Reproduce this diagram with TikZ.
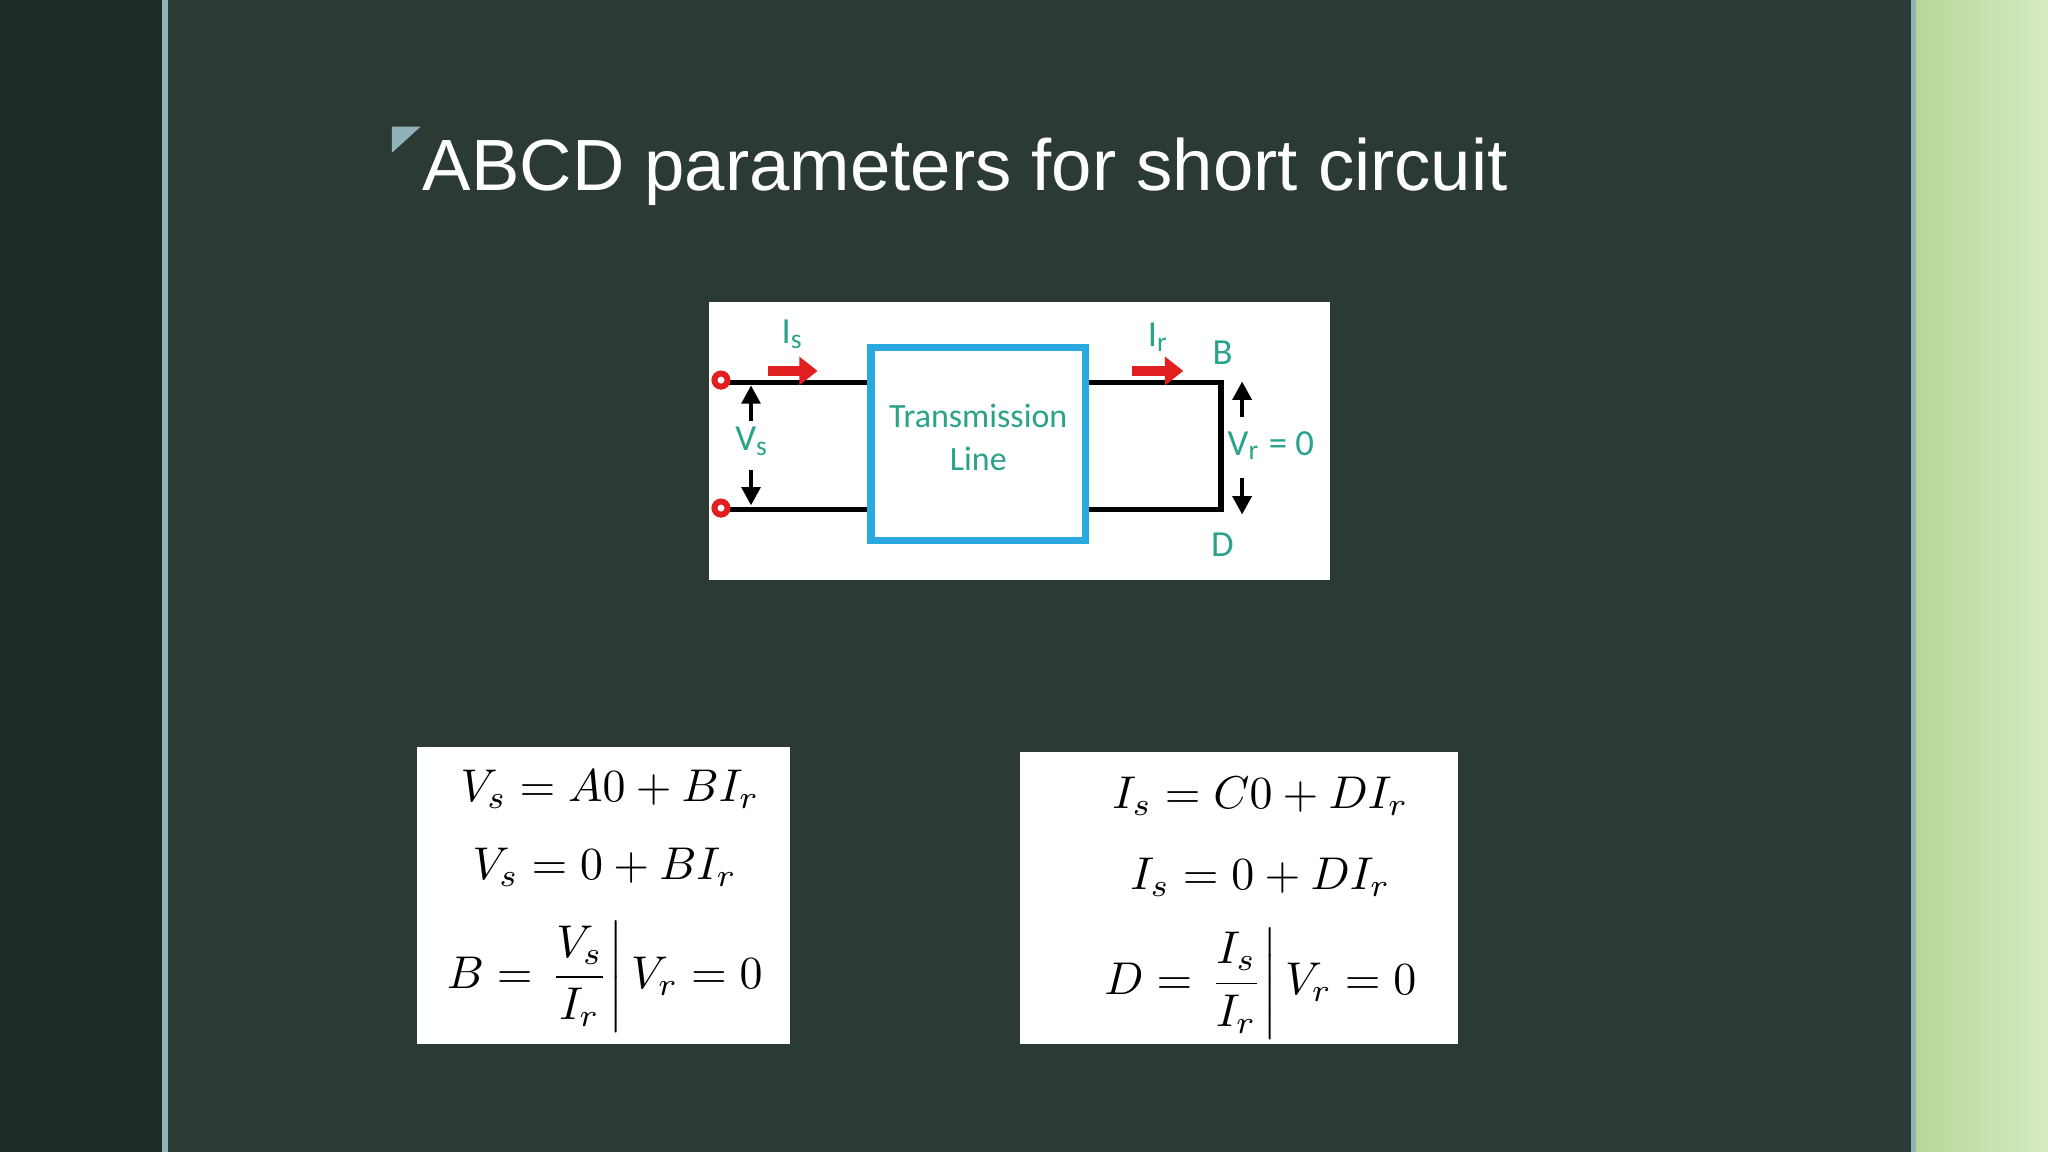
\documentclass[tikz,border=0pt]{standalone}
\usepackage{fontspec}
\usepackage{amsmath}
\newfontfamily\arialf{Liberation Sans}
\newfontfamily\carlf{Carlito}
\usetikzlibrary{arrows.meta}
\definecolor{bgL}{HTML}{1F2B26}
\definecolor{bgM}{HTML}{2B3A33}
\definecolor{edge}{HTML}{8FB3B8}
\definecolor{teal}{HTML}{2AA38A}
\definecolor{cyanb}{HTML}{29A9E0}
\definecolor{redc}{HTML}{E02020}
\definecolor{gA}{HTML}{B5D99A}
\definecolor{gB}{HTML}{D6EBC0}
\tikzset{
  wire/.style={line width=1.2pt,black},
  redarr/.style={line width=2.2pt,redc,-{Triangle[length=4pt,width=6pt]}},
  blkarr/.style={line width=1pt,black,-{Triangle[length=4pt,width=4pt]}},
  lbl/.style={text=teal,font=\carlf\fontsize{8}{9}\selectfont,inner sep=0},
  eqbox/.style={fill=white,draw=none},
  eq/.style={font=\fontsize{10.3}{12}\selectfont,inner sep=0,anchor=center}
}
\begin{document}
\begin{tikzpicture}[x=0.01cm,y=-0.01cm]
\useasboundingbox (0,0) rectangle (1568,882);
\fill[bgL] (0,0) rectangle (124,882);
\fill[bgM] (124,0) rectangle (1466,882);
\fill[edge] (124,0) rectangle (129,882);
\shade[left color=gA,right color=gB] (1466,0) rectangle (1568,882);
\fill[edge] (1463,0) rectangle (1467,882);
% title
\fill[edge] (300,97) -- (322,97) -- (300,117) -- cycle;
\node[anchor=base west,inner sep=0,text=white,font=\arialf\fontsize{15.8}{18}\selectfont] (title) at (323,146) {ABCD parameters for short circuit};
% circuit
\fill[white] (543,231) rectangle (1018,444);
\node[draw=cyanb,line width=1.6pt,minimum width=1.64cm,minimum height=1.48cm,inner sep=0] (tl) at (749,340) {};
\node[lbl,align=center,font=\carlf\fontsize{7.4}{9.2}\selectfont] (tlt) at (749,335) {Transmission\\Line};
\coordinate (a1) at (558,293); \coordinate (a2) at (558,390);
\coordinate (b1) at (935,293); \coordinate (b2) at (935,390);
\draw[wire] (a1) -- (tl.north west |- a1);
\draw[wire] (a2) -- (tl.north west |- a2);
\draw[wire] (tl.north east |- b1) -- (b1) -- (b2) -- (tl.north east |- b2);
\node[draw=redc,line width=1.3pt,circle,minimum size=0.1cm,inner sep=0,fill=white] (c1) at (552,291) {};
\node[draw=redc,line width=1.3pt,circle,minimum size=0.1cm,inner sep=0,fill=white] (c2) at (552,389) {};
\coordinate (r1s) at (588,284); \coordinate (r1e) at (626,284);
\coordinate (r2s) at (867,284); \coordinate (r2e) at (906,284);
\draw[redarr] (r1s) -- (r1e);
\draw[redarr] (r2s) -- (r2e);
\node[lbl] (is) at (607,256) {I\textsubscript{s}};
\node[lbl] (ir) at (887,258) {I\textsubscript{r}};
\coordinate (v1a) at (575,322); \coordinate (v1b) at (575,295);
\coordinate (v2a) at (575,360); \coordinate (v2b) at (575,387);
\draw[blkarr] (v1a) -- (v1b);
\draw[blkarr] (v2a) -- (v2b);
\node[lbl] (vs) at (576,338) {V\textsubscript{s}};
\coordinate (w1a) at (951,319); \coordinate (w1b) at (951,292);
\coordinate (w2a) at (951,366); \coordinate (w2b) at (951,394);
\draw[blkarr] (w1a) -- (w1b);
\draw[blkarr] (w2a) -- (w2b);
\node[lbl] (vr) at (973,341) {V\textsubscript{r} = 0};
\node[lbl] (B) at (936,270) {B};
\node[lbl] (D) at (936,417) {D};
% equations
\fill[eqbox] (319,572) rectangle (605,799);
\fill[eqbox] (781,576) rectangle (1116,799);
\node[eq] (e1) at (467,604) {$V_s = A0 + BI_r$};
\node[eq] (e2) at (463,664) {$V_s = 0 + BI_r$};
\node[eq] (e3) at (463,748) {$B = \left.\dfrac{V_s}{I_r}\right|V_r = 0$};
\node[eq] (f1) at (965,610) {$I_s = C0 + DI_r$};
\node[eq] (f2) at (965,672) {$I_s = 0 + DI_r$};
\node[eq] (f3) at (965,753) {$D = \left.\dfrac{I_s}{I_r}\right|V_r = 0$};
\end{tikzpicture}
\end{document}
